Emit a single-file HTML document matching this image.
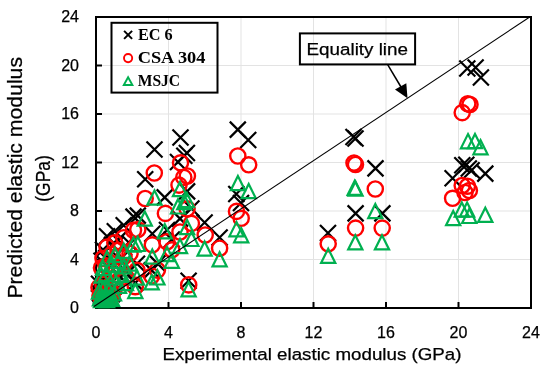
<!DOCTYPE html>
<html><head><meta charset="utf-8"><style>
html,body{margin:0;padding:0;background:#fff;}
svg{display:block;}
.t{font-family:"Liberation Sans",Arial,sans-serif;fill:#000;stroke:#000;stroke-width:0.25px;}
.lg{font-family:"Liberation Serif","Times New Roman",serif;font-weight:bold;fill:#000;}
</style></head><body>
<svg width="550" height="374" viewBox="0 0 550 374">
<rect width="550" height="374" fill="#fff"/>
<g stroke="#e3e3e3" stroke-width="1">
<line x1="168.5" y1="17.0" x2="168.5" y2="308.0"/>
<line x1="96.0" y1="259.5" x2="531.0" y2="259.5"/>
<line x1="241.0" y1="17.0" x2="241.0" y2="308.0"/>
<line x1="96.0" y1="211.0" x2="531.0" y2="211.0"/>
<line x1="313.5" y1="17.0" x2="313.5" y2="308.0"/>
<line x1="96.0" y1="162.5" x2="531.0" y2="162.5"/>
<line x1="386.0" y1="17.0" x2="386.0" y2="308.0"/>
<line x1="96.0" y1="114.0" x2="531.0" y2="114.0"/>
<line x1="458.5" y1="17.0" x2="458.5" y2="308.0"/>
<line x1="96.0" y1="65.5" x2="531.0" y2="65.5"/>
</g>
<g stroke="#000" stroke-width="2">
<line x1="168.5" y1="308.0" x2="168.5" y2="302.0"/>
<line x1="96.0" y1="259.5" x2="102.0" y2="259.5"/>
<line x1="241.0" y1="308.0" x2="241.0" y2="302.0"/>
<line x1="96.0" y1="211.0" x2="102.0" y2="211.0"/>
<line x1="313.5" y1="308.0" x2="313.5" y2="302.0"/>
<line x1="96.0" y1="162.5" x2="102.0" y2="162.5"/>
<line x1="386.0" y1="308.0" x2="386.0" y2="302.0"/>
<line x1="96.0" y1="114.0" x2="102.0" y2="114.0"/>
<line x1="458.5" y1="308.0" x2="458.5" y2="302.0"/>
<line x1="96.0" y1="65.5" x2="102.0" y2="65.5"/>
</g>
<rect x="96.0" y="17.0" width="435.0" height="291.0" fill="none" stroke="#000" stroke-width="2"/>
<g fill="none" stroke="#000" stroke-width="2.2" stroke-linecap="butt">
<path d="M459.3 60.5L475.3 76.5M459.3 76.5L475.3 60.5"/>
<path d="M467.6 59.5L483.6 75.5M467.6 75.5L483.6 59.5"/>
<path d="M472.9 69.5L488.9 85.5M472.9 85.5L488.9 69.5"/>
<path d="M444.6 170.3L460.6 186.3M444.6 186.3L460.6 170.3"/>
<path d="M454.3 157.2L470.3 173.2M454.3 173.2L470.3 157.2"/>
<path d="M458.3 156.8L474.3 172.8M458.3 172.8L474.3 156.8"/>
<path d="M460.8 160.5L476.8 176.5M460.8 176.5L476.8 160.5"/>
<path d="M463.6 162.2L479.6 178.2M463.6 178.2L479.6 162.2"/>
<path d="M477.3 165.6L493.3 181.6M477.3 181.6L493.3 165.6"/>
<path d="M345.5 129.0L361.5 145.0M345.5 145.0L361.5 129.0"/>
<path d="M347.5 130.5L363.5 146.5M347.5 146.5L363.5 130.5"/>
<path d="M367.5 160.4L383.5 176.4M367.5 176.4L383.5 160.4"/>
<path d="M347.6 205.4L363.6 221.4M347.6 221.4L363.6 205.4"/>
<path d="M374.4 205.4L390.4 221.4M374.4 221.4L390.4 205.4"/>
<path d="M320.0 225.0L336.0 241.0M320.0 241.0L336.0 225.0"/>
<path d="M229.8 121.6L245.8 137.6M229.8 137.6L245.8 121.6"/>
<path d="M240.2 132.0L256.2 148.0M240.2 148.0L256.2 132.0"/>
<path d="M228.3 186.0L244.3 202.0M228.3 202.0L244.3 186.0"/>
<path d="M233.0 195.0L249.0 211.0M233.0 211.0L249.0 195.0"/>
<path d="M146.5 141.5L162.5 157.5M146.5 157.5L162.5 141.5"/>
<path d="M172.5 129.5L188.5 145.5M172.5 145.5L188.5 129.5"/>
<path d="M178.9 145.0L194.9 161.0M178.9 161.0L194.9 145.0"/>
<path d="M176.3 147.7L192.3 163.7M176.3 163.7L192.3 147.7"/>
<path d="M170.0 154.0L186.0 170.0M170.0 170.0L186.0 154.0"/>
<path d="M137.2 171.2L153.2 187.2M137.2 187.2L153.2 171.2"/>
<path d="M156.7 189.4L172.7 205.4M156.7 205.4L172.7 189.4"/>
<path d="M179.1 183.4L195.1 199.4M179.1 199.4L195.1 183.4"/>
<path d="M183.4 200.5L199.4 216.5M183.4 216.5L199.4 200.5"/>
<path d="M196.6 214.5L212.6 230.5M196.6 230.5L212.6 214.5"/>
<path d="M211.6 229.5L227.6 245.5M211.6 245.5L227.6 229.5"/>
<path d="M180.6 272.8L196.6 288.8M180.6 288.8L196.6 272.8"/>
<path d="M99.0 228.3L115.0 244.3M99.0 244.3L115.0 228.3"/>
<path d="M106.8 223.3L122.8 239.3M106.8 239.3L122.8 223.3"/>
<path d="M115.7 217.3L131.7 233.3M115.7 233.3L131.7 217.3"/>
<path d="M125.5 208.6L141.5 224.6M125.5 224.6L141.5 208.6"/>
<path d="M129.8 207.6L145.8 223.6M129.8 223.6L145.8 207.6"/>
<path d="M144.3 225.7L160.3 241.7M144.3 241.7L160.3 225.7"/>
<path d="M172.0 210.6L188.0 226.6M172.0 226.6L188.0 210.6"/>
<path d="M159.0 222.0L175.0 238.0M159.0 238.0L175.0 222.0"/>
<path d="M127.3 274.9L143.3 290.9M127.3 290.9L143.3 274.9"/>
<path d="M143.7 262.4L159.7 278.4M143.7 278.4L159.7 262.4"/>
<path d="M149.4 255.4L165.4 271.4M149.4 271.4L165.4 255.4"/>
<path d="M129.0 255.7L145.0 271.7M129.0 271.7L145.0 255.7"/>
<path d="M163.8 231.5L179.8 247.5M163.8 247.5L179.8 231.5"/>
<path d="M92.0 285.4L108.0 301.4M92.0 301.4L108.0 285.4"/>
<path d="M94.0 284.2L110.0 300.2M94.0 300.2L110.0 284.2"/>
<path d="M96.0 286.7L112.0 302.7M96.0 302.7L112.0 286.7"/>
<path d="M98.0 284.8L114.0 300.8M98.0 300.8L114.0 284.8"/>
<path d="M100.0 285.4L116.0 301.4M100.0 301.4L116.0 285.4"/>
<path d="M102.0 284.2L118.0 300.2M102.0 300.2L118.0 284.2"/>
<path d="M104.0 286.1L120.0 302.1M104.0 302.1L120.0 286.1"/>
<path d="M93.0 287.9L109.0 303.9M93.0 303.9L109.0 287.9"/>
<path d="M99.0 287.9L115.0 303.9M99.0 303.9L115.0 287.9"/>
<path d="M97.0 281.8L113.0 297.8M97.0 297.8L113.0 281.8"/>
<path d="M91.0 275.8L107.0 291.8M91.0 291.8L107.0 275.8"/>
<path d="M95.0 272.1L111.0 288.1M95.0 288.1L111.0 272.1"/>
<path d="M101.0 274.5L117.0 290.5M101.0 290.5L117.0 274.5"/>
<path d="M106.0 278.2L122.0 294.2M106.0 294.2L122.0 278.2"/>
<path d="M93.5 252.7L109.5 268.7M93.5 268.7L109.5 252.7"/>
<path d="M98.0 250.3L114.0 266.3M98.0 266.3L114.0 250.3"/>
<path d="M105.0 255.1L121.0 271.1M105.0 271.1L121.0 255.1"/>
<path d="M112.0 251.5L128.0 267.5M112.0 267.5L128.0 251.5"/>
<path d="M111.0 267.3L127.0 283.3M111.0 283.3L127.0 267.3"/>
<path d="M95.0 241.8L111.0 257.8M95.0 257.8L111.0 241.8"/>
<path d="M104.0 236.9L120.0 252.9M104.0 252.9L120.0 236.9"/>
<path d="M116.0 239.4L132.0 255.4M116.0 255.4L132.0 239.4"/>
<path d="M110.0 232.1L126.0 248.1M110.0 248.1L126.0 232.1"/>
<path d="M122.0 235.7L138.0 251.7M122.0 251.7L138.0 235.7"/>
<path d="M118.0 263.6L134.0 279.6M118.0 279.6L134.0 263.6"/>
</g>
<g fill="none" stroke="#ff0000" stroke-width="2.4">
<circle cx="462.2" cy="112.6" r="7.6"/>
<circle cx="467.8" cy="103.8" r="7.6"/>
<circle cx="470.0" cy="104.5" r="7.6"/>
<circle cx="452.6" cy="198.3" r="7.6"/>
<circle cx="462.2" cy="185.5" r="7.6"/>
<circle cx="467.4" cy="186.2" r="7.6"/>
<circle cx="469.4" cy="190.5" r="7.6"/>
<circle cx="465.0" cy="192.5" r="7.6"/>
<circle cx="354.0" cy="163.0" r="7.6"/>
<circle cx="355.5" cy="164.5" r="7.6"/>
<circle cx="375.3" cy="189.0" r="7.6"/>
<circle cx="355.6" cy="228.1" r="7.6"/>
<circle cx="382.2" cy="228.1" r="7.6"/>
<circle cx="328.2" cy="243.8" r="7.6"/>
<circle cx="237.8" cy="156.0" r="7.6"/>
<circle cx="248.7" cy="164.8" r="7.6"/>
<circle cx="236.5" cy="211.4" r="7.6"/>
<circle cx="241.2" cy="218.3" r="7.6"/>
<circle cx="154.3" cy="173.0" r="7.6"/>
<circle cx="180.5" cy="162.8" r="7.6"/>
<circle cx="183.8" cy="177.4" r="7.6"/>
<circle cx="187.4" cy="176.0" r="7.6"/>
<circle cx="179.0" cy="185.1" r="7.6"/>
<circle cx="145.2" cy="198.5" r="7.6"/>
<circle cx="165.4" cy="213.4" r="7.6"/>
<circle cx="187.1" cy="208.8" r="7.6"/>
<circle cx="191.4" cy="223.4" r="7.6"/>
<circle cx="205.2" cy="235.0" r="7.6"/>
<circle cx="219.6" cy="248.2" r="7.6"/>
<circle cx="188.7" cy="284.9" r="7.6"/>
<circle cx="107.0" cy="247.1" r="7.6"/>
<circle cx="114.8" cy="242.8" r="7.6"/>
<circle cx="123.7" cy="237.7" r="7.6"/>
<circle cx="133.5" cy="230.3" r="7.6"/>
<circle cx="137.8" cy="229.5" r="7.6"/>
<circle cx="152.3" cy="244.8" r="7.6"/>
<circle cx="180.0" cy="232.0" r="7.6"/>
<circle cx="167.0" cy="241.7" r="7.6"/>
<circle cx="135.3" cy="286.7" r="7.6"/>
<circle cx="151.7" cy="276.0" r="7.6"/>
<circle cx="157.4" cy="270.1" r="7.6"/>
<circle cx="137.0" cy="270.3" r="7.6"/>
<circle cx="171.8" cy="249.8" r="7.6"/>
<circle cx="100.0" cy="295.6" r="7.6"/>
<circle cx="102.0" cy="294.6" r="7.6"/>
<circle cx="104.0" cy="296.7" r="7.6"/>
<circle cx="106.0" cy="295.1" r="7.6"/>
<circle cx="108.0" cy="295.6" r="7.6"/>
<circle cx="110.0" cy="294.6" r="7.6"/>
<circle cx="112.0" cy="296.1" r="7.6"/>
<circle cx="101.0" cy="297.7" r="7.6"/>
<circle cx="107.0" cy="297.7" r="7.6"/>
<circle cx="105.0" cy="292.5" r="7.6"/>
<circle cx="99.0" cy="287.4" r="7.6"/>
<circle cx="103.0" cy="284.3" r="7.6"/>
<circle cx="109.0" cy="286.4" r="7.6"/>
<circle cx="114.0" cy="289.4" r="7.6"/>
<circle cx="101.5" cy="267.8" r="7.6"/>
<circle cx="106.0" cy="265.7" r="7.6"/>
<circle cx="113.0" cy="269.9" r="7.6"/>
<circle cx="120.0" cy="266.8" r="7.6"/>
<circle cx="119.0" cy="280.2" r="7.6"/>
<circle cx="103.0" cy="258.5" r="7.6"/>
<circle cx="112.0" cy="254.4" r="7.6"/>
<circle cx="124.0" cy="256.5" r="7.6"/>
<circle cx="118.0" cy="250.3" r="7.6"/>
<circle cx="130.0" cy="253.4" r="7.6"/>
<circle cx="126.0" cy="277.1" r="7.6"/>
</g>
<g fill="none" stroke="#00b050" stroke-width="2.2" stroke-linejoin="miter">
<path d="M468.0 134.1L475.1 148.3L460.9 148.3Z"/>
<path d="M475.0 133.9L482.1 148.1L467.9 148.1Z"/>
<path d="M480.5 140.1L487.6 154.3L473.4 154.3Z"/>
<path d="M453.2 211.0L460.3 225.2L446.1 225.2Z"/>
<path d="M461.8 202.4L468.9 216.6L454.7 216.6Z"/>
<path d="M467.1 202.4L474.2 216.6L460.0 216.6Z"/>
<path d="M469.3 208.8L476.4 223.0L462.2 223.0Z"/>
<path d="M485.3 207.7L492.4 221.9L478.2 221.9Z"/>
<path d="M354.7 180.6L361.8 194.8L347.6 194.8Z"/>
<path d="M355.5 181.5L362.6 195.7L348.4 195.7Z"/>
<path d="M375.3 204.0L382.4 218.2L368.2 218.2Z"/>
<path d="M355.3 235.2L362.4 249.4L348.2 249.4Z"/>
<path d="M382.0 235.2L389.1 249.4L374.9 249.4Z"/>
<path d="M328.2 248.7L335.3 262.9L321.1 262.9Z"/>
<path d="M237.9 176.0L245.0 190.2L230.8 190.2Z"/>
<path d="M248.7 184.0L255.8 198.2L241.6 198.2Z"/>
<path d="M236.5 222.1L243.6 236.3L229.4 236.3Z"/>
<path d="M241.2 228.1L248.3 242.3L234.1 242.3Z"/>
<path d="M154.5 190.5L161.6 204.7L147.4 204.7Z"/>
<path d="M180.0 181.9L187.1 196.1L172.9 196.1Z"/>
<path d="M186.9 193.0L194.0 207.2L179.8 207.2Z"/>
<path d="M184.3 194.9L191.4 209.1L177.2 209.1Z"/>
<path d="M178.0 199.3L185.1 213.5L170.9 213.5Z"/>
<path d="M144.8 211.5L151.9 225.7L137.7 225.7Z"/>
<path d="M164.7 224.1L171.8 238.3L157.6 238.3Z"/>
<path d="M187.1 219.9L194.2 234.1L180.0 234.1Z"/>
<path d="M191.4 231.8L198.5 246.0L184.3 246.0Z"/>
<path d="M204.6 241.5L211.7 255.7L197.5 255.7Z"/>
<path d="M219.6 252.2L226.7 266.4L212.5 266.4Z"/>
<path d="M188.6 282.1L195.7 296.3L181.5 296.3Z"/>
<path d="M107.0 251.3L114.1 265.5L99.9 265.5Z"/>
<path d="M114.8 247.8L121.9 262.0L107.7 262.0Z"/>
<path d="M123.7 243.6L130.8 257.8L116.6 257.8Z"/>
<path d="M133.5 237.5L140.6 251.7L126.4 251.7Z"/>
<path d="M137.8 236.8L144.9 251.0L130.7 251.0Z"/>
<path d="M152.3 249.5L159.4 263.7L145.2 263.7Z"/>
<path d="M180.0 238.9L187.1 253.1L172.9 253.1Z"/>
<path d="M167.0 246.9L174.1 261.1L159.9 261.1Z"/>
<path d="M135.3 283.9L142.4 298.1L128.2 298.1Z"/>
<path d="M151.7 275.2L158.8 289.4L144.6 289.4Z"/>
<path d="M157.4 270.3L164.5 284.5L150.3 284.5Z"/>
<path d="M137.0 270.5L144.1 284.7L129.9 284.7Z"/>
<path d="M171.8 253.6L178.9 267.8L164.7 267.8Z"/>
<path d="M100.0 291.3L107.1 305.5L92.9 305.5Z"/>
<path d="M102.0 290.5L109.1 304.7L94.9 304.7Z"/>
<path d="M104.0 292.2L111.1 306.4L96.9 306.4Z"/>
<path d="M106.0 290.9L113.1 305.1L98.9 305.1Z"/>
<path d="M108.0 291.3L115.1 305.5L100.9 305.5Z"/>
<path d="M110.0 290.5L117.1 304.7L102.9 304.7Z"/>
<path d="M112.0 291.7L119.1 305.9L104.9 305.9Z"/>
<path d="M101.0 293.0L108.1 307.2L93.9 307.2Z"/>
<path d="M107.0 293.0L114.1 307.2L99.9 307.2Z"/>
<path d="M105.0 288.8L112.1 303.0L97.9 303.0Z"/>
<path d="M99.0 284.5L106.1 298.7L91.9 298.7Z"/>
<path d="M103.0 282.0L110.1 296.2L95.9 296.2Z"/>
<path d="M109.0 283.7L116.1 297.9L101.9 297.9Z"/>
<path d="M114.0 286.2L121.1 300.4L106.9 300.4Z"/>
<path d="M101.5 268.4L108.6 282.6L94.4 282.6Z"/>
<path d="M106.0 266.7L113.1 280.9L98.9 280.9Z"/>
<path d="M113.0 270.1L120.1 284.3L105.9 284.3Z"/>
<path d="M120.0 267.6L127.1 281.8L112.9 281.8Z"/>
<path d="M119.0 278.6L126.1 292.8L111.9 292.8Z"/>
<path d="M103.0 260.8L110.1 275.0L95.9 275.0Z"/>
<path d="M112.0 257.4L119.1 271.6L104.9 271.6Z"/>
<path d="M124.0 259.1L131.1 273.3L116.9 273.3Z"/>
<path d="M118.0 254.0L125.1 268.2L110.9 268.2Z"/>
<path d="M130.0 256.5L137.1 270.7L122.9 270.7Z"/>
<path d="M126.0 276.0L133.1 290.2L118.9 290.2Z"/>
</g>
<line x1="94" y1="306.5" x2="529" y2="17.5" stroke="#000" stroke-width="1.1"/>
<!-- legend -->
<rect x="111.5" y="22.8" width="106" height="69.8" fill="none" stroke="#000" stroke-width="2"/>
<path d="M124.1 30.9L132.1 38.9M124.1 38.9L132.1 30.9" stroke="#000" stroke-width="2" fill="none"/>
<circle cx="128.1" cy="58.1" r="4.1" fill="none" stroke="#ff0000" stroke-width="1.9"/>
<path d="M128.1 77.3L132.4 85L123.8 85Z" fill="none" stroke="#00b050" stroke-width="1.9"/>
<text class="lg" x="138" y="40.1" font-size="16" textLength="34.7" lengthAdjust="spacingAndGlyphs">EC 6</text>
<text class="lg" x="137.7" y="63" font-size="16" textLength="67.7" lengthAdjust="spacingAndGlyphs">CSA 304</text>
<text class="lg" x="137.7" y="86.3" font-size="16" textLength="42.4" lengthAdjust="spacingAndGlyphs">MSJC</text>
<!-- equality line annotation -->
<rect x="299.9" y="33.4" width="115.2" height="31" fill="none" stroke="#000" stroke-width="2"/>
<text class="t" x="306.5" y="55.3" font-size="16.8" textLength="101.5" lengthAdjust="spacingAndGlyphs">Equality line</text>
<line x1="387.8" y1="64.8" x2="401" y2="87" stroke="#000" stroke-width="1.5"/>
<path d="M407.5 98.3L395 89.5L406.3 83.3Z" fill="#000"/>
<!-- tick labels -->
<g class="t" font-size="16">
<text x="96.0" y="337.6" text-anchor="middle">0</text>
<text x="168.5" y="337.6" text-anchor="middle">4</text>
<text x="241.0" y="337.6" text-anchor="middle">8</text>
<text x="313.5" y="337.6" text-anchor="middle">12</text>
<text x="386.0" y="337.6" text-anchor="middle">16</text>
<text x="458.5" y="337.6" text-anchor="middle">20</text>
<text x="531.0" y="337.6" text-anchor="middle">24</text>
<text x="79" y="313.1" text-anchor="end">0</text>
<text x="79" y="264.6" text-anchor="end">4</text>
<text x="79" y="216.1" text-anchor="end">8</text>
<text x="79" y="167.6" text-anchor="end">12</text>
<text x="79" y="119.1" text-anchor="end">16</text>
<text x="79" y="70.6" text-anchor="end">20</text>
<text x="79" y="22.1" text-anchor="end">24</text>
</g>
<text class="t" x="162.5" y="359.5" font-size="16.8" textLength="299" lengthAdjust="spacingAndGlyphs">Experimental elastic modulus (GPa)</text>
<g class="t" font-size="20">
<text transform="translate(21.8 298.6) rotate(-90)" textLength="241.6" lengthAdjust="spacingAndGlyphs">Predicted elastic modulus</text>
<text transform="translate(49.5 201.7) rotate(-90)" textLength="46.5" lengthAdjust="spacingAndGlyphs">(GPa)</text>
</g>
</svg>
</body></html>
